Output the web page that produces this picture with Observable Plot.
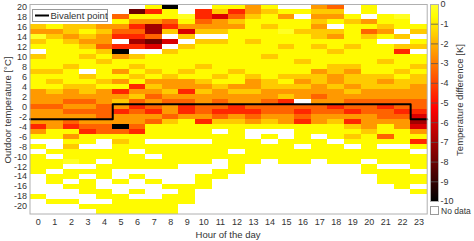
<!DOCTYPE html>
<html><head><meta charset="utf-8">
<script src="https://cdn.jsdelivr.net/npm/d3@7"></script>
<script src="https://cdn.jsdelivr.net/npm/@observablehq/plot@0.6"></script>
<style>
body{margin:0;background:#fff;}
#wrap{position:relative;width:474px;height:241px;font-family:"Liberation Sans",Arial,sans-serif;}
#wrap svg{position:absolute;top:0;overflow:visible;}
</style></head><body><div id="wrap"></div>
<script>
// Hour of the day (x categories)
const hours = [0,1,2,3,4,5,6,7,8,9,10,11,12,13,14,15,16,17,18,19,20,21,22,23];
// Outdoor temperature bins (rows), top to bottom
const temps = [20,19,18,17,16,15,14,13,12,11,10,9,8,7,6,5,4,3,2,1,0,-1,-2,-3,-4,-5,-6,-7,-8,-9,-10,-11,-12,-13,-14,-15,-16,-17,-18,-19,-20,-21];
// Temperature difference [K] per hour column, one char per temperature row (20 .. -21)
// '.' = no data, otherwise a level (see levelValue)
const levelValue = {"0":-0.2,"1":-0.7,"2":-1.6,"3":-2.5,"4":-3.5,"5":-4.6,"6":-6,"7":-7,"8":-8,"9":-9,"X":-10};
const diffColumns = [
  "....23021." + "2112111333" + "4333531.1." + "1111....1." + "..",
  "....132111" + "1112121233" + "4333311..1" + ".11.11...1" + "..",
  "....223211" + "1121112334" + "3434513121" + "10.11.1..1" + "..",
  "....212321" + "211.212234" + "34334511.1" + "11.1.111.." + "1.",
  "....323342" + "1211121333" + "4443441..1" + "1.111..11." + "11",
  "..41345.5X" + "3113131532" + "3533X41211" + "111..1..11" + "11",
  ".81354575." + "2121215324" + "543345111." + "111.1..1.1" + "11",
  "151377486." + "1112132343" + "4534111.11" + ".11..1...1" + "11",
  "X11452.6.2" + "1111233234" + "3342111.11" + "111...1.11" + "11",
  "..01362.21" + "1112133534" + "5531111.11" + "11....1111" + "..",
  ".55432.211" + "1121123233" + "4435111.11" + "11..111..." + "..",
  "126332.211" + "1111212334" + "45421.1111" + "1..11....." + "..",
  "1542311111" + "1112113233" + "553211111." + "1111......" + "..",
  "3321111211" + "1111233233" + "45431..111" + "11........" + "..",
  "1211211111" + "2111122334" + "44321.1.11" + "1........." + "..",
  ".131101121" + "1111212325" + "44331..111" + "11........" + "..",
  ".1.1121111" + "121123233." + "45451111.1" + "11........" + "..",
  "3232322121" + "1113223343" + "443311.111" + "1........." + "..",
  "4231.23112" + "1122332333" + "5432111.11" + "11........" + "..",
  "..12111121" + "1123223234" + "45352121.1" + "11........" + "..",
  "11.3142111" + "1111222334" + "4433321111" + "1.11......" + "..",
  "..11231.11" + "1211232334" + "54431141.1" + "11.111...." + "..",
  "..011.2.25" + "1112122334" + "45433111.1" + "11.1111..." + "..",
  "....12.12." + "1121223334" + "456763151." + "111.11.1.." + ".."
];
// Bivalent point [°C] per hour
const bivalent = [-2.5,-2.5,-2.5,-2.5,-2.5,0.5,0.5,0.5,0.5,0.5,0.5,0.5,0.5,0.5,0.5,0.5,0.5,0.5,0.5,0.5,0.5,0.5,0.5,-2.5];
const yTicks = [20,18,16,14,12,10,8,6,4,2,0,-2,-4,-6,-8,-10,-12,-14,-16,-18,-20];
const cbTicks = [0,-1,-2,-3,-4,-5,-6,-7,-8,-9,-10];

const cells = [];
hours.forEach((h, j) => {
  const s = diffColumns[j];
  temps.forEach((t, i) => {
    const c = s[i];
    if (c && c !== ".") cells.push({hour: h, temp: t, diff: levelValue[c]});
  });
});
const bivPts = [];
hours.forEach((h, j) => { bivPts.push({x: h - 0.5, y: bivalent[j]}); bivPts.push({x: h + 0.5, y: bivalent[j]}); });

function hot(x) {
  const c = v => Math.max(0, Math.min(1, v));
  const r = c(x / 0.375), g = c((x - 0.375) / 0.375), b = c((x - 0.75) / 0.25);
  return d3.rgb(r * 255, g * 255, b * 255).toString();
}
const interp = t => hot(t * 0.8);
const colorOpts = {type: "linear", domain: [-10, 0], interpolate: interp};
const font = "'Liberation Sans', Arial, sans-serif";
const textCol = "#333";

const main = Plot.plot({
  width: 474, height: 241,
  marginLeft: 29.5, marginRight: 47.3, marginTop: 4, marginBottom: 27.5,
  style: {fontFamily: font, fontSize: "9px", color: textCol, background: "transparent"},
  x: {domain: [-0.5, 23.5], ticks: hours, tickFormat: d => String(d), tickSize: 0, tickPadding: 5, label: null},
  y: {domain: [-21.5, 20.5], ticks: yTicks, tickFormat: d => String(d), tickSize: 0, tickPadding: 3, label: null},
  color: colorOpts,
  marks: [
    Plot.rect(cells, {x1: d => d.hour - 0.5, x2: d => d.hour + 0.5, y1: d => d.temp - 0.5, y2: d => d.temp + 0.5, fill: "diff", shapeRendering: "crispEdges"}),
    Plot.line(bivPts, {x: "x", y: "y", stroke: "black", strokeWidth: 2}),
    Plot.frame({stroke: "#b0b0b0"})
  ]
});
const wrap = document.getElementById("wrap");
main.style.left = "0px";
wrap.appendChild(main);
const sm = d3.select(main);
// legend box
const lg = sm.append("g").attr("text-anchor", "start");
lg.append("rect").attr("x", 32.5).attr("y", 9.5).attr("width", 75).attr("height", 12).attr("fill", "white").attr("stroke", "#999");
lg.append("line").attr("x1", 35).attr("x2", 49).attr("y1", 15.5).attr("y2", 15.5).attr("stroke", "black").attr("stroke-width", 2);
lg.append("text").attr("x", 50.5).attr("y", 19).attr("text-anchor", "start").attr("font-size", "9.5px").attr("fill", textCol).attr("font-family", font).text("Bivalent point");
// axis titles
sm.append("text").attr("x", 228).attr("y", 237.5).attr("text-anchor", "middle").attr("font-size", "9.5px").attr("fill", textCol).attr("font-family", font).text("Hour of the day");
sm.append("text").attr("transform", "translate(11,110) rotate(-90)").attr("text-anchor", "middle").attr("font-size", "9.5px").attr("fill", textCol).attr("font-family", font).text("Outdoor temperature [°C]");

// colorbar
const ramp = d3.range(-10, 0, 0.05).map(v => ({v}));
const cb = Plot.plot({
  width: 48, height: 241,
  marginLeft: 4, marginRight: 36, marginTop: 4, marginBottom: 40,
  style: {fontFamily: font, fontSize: "9px", color: textCol, background: "transparent"},
  x: {domain: [0, 1], axis: null},
  y: {domain: [-10, 0], ticks: cbTicks, tickFormat: d => String(d), tickSize: 0, tickPadding: 2, label: null, axis: "right"},
  color: colorOpts,
  marks: [
    Plot.rect(ramp, {x1: 0, x2: 1, y1: "v", y2: d => d.v + 0.05, fill: "v", shapeRendering: "crispEdges"}),
    Plot.tickY(cbTicks, {y: d => d, x1: 0.75, x2: 1, stroke: "#555", strokeWidth: 0.8}),
    Plot.frame({stroke: "#b0b0b0"})
  ]
});
cb.style.left = "426px";
wrap.appendChild(cb);
const sc = d3.select(cb);
sc.append("text").attr("transform", "translate(37,100) rotate(-90)").attr("text-anchor", "middle").attr("font-size", "9.5px").attr("fill", textCol).attr("font-family", font).text("Temperature difference [K]");
sc.append("rect").attr("x", 4.5).attr("y", 206.5).attr("width", 8).attr("height", 8).attr("fill", "white").attr("stroke", "#999");
sc.append("text").attr("x", 15).attr("y", 214).attr("text-anchor", "start").attr("font-size", "8.5px").attr("fill", textCol).attr("font-family", font).text("No data");
</script></body></html>
